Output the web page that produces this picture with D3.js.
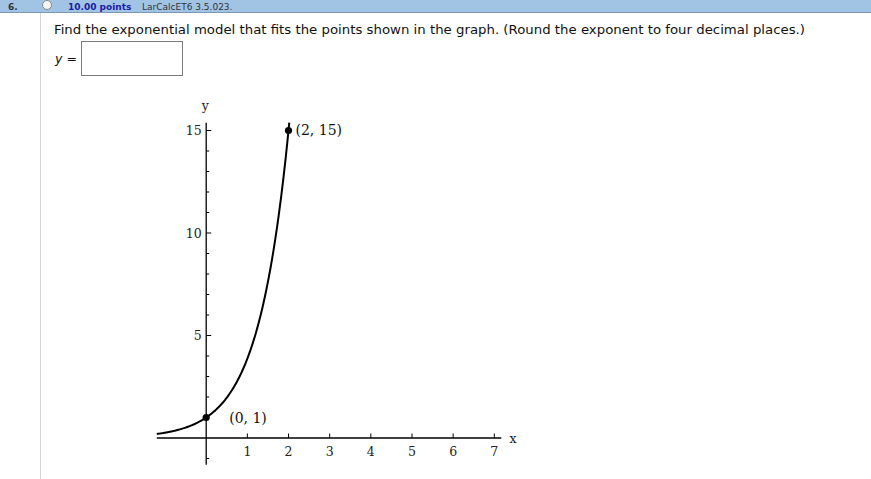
<!DOCTYPE html>
<html>
<head>
<meta charset="utf-8">
<script src="https://cdn.jsdelivr.net/npm/d3@7/dist/d3.min.js"></script>
<style>
  html, body { margin: 0; padding: 0; background: #fff; overflow: hidden; }
  svg { display: block; }
</style>
</head>
<body>
<svg id="chart" width="871" height="479"></svg>
<script>
// ---- data ----
const pointXs = [0, 2];
const pointYs = [1, 15];
const pointLabels = ["(0, 1)", "(2, 15)"];
const xTickValues = [1, 2, 3, 4, 5, 6, 7];
const yTickValues = [5, 10, 15];
const yMinorTickValues = [-1, 1, 2, 3, 4, 6, 7, 8, 9, 11, 12, 13, 14];
const questionText = "Find the exponential model that fits the points shown in the graph. (Round the exponent to four decimal places.)";

const svg = d3.select("#chart");
const W = 871, H = 479;

// ---- page chrome ----
svg.append("rect").attr("x", 0).attr("y", 0).attr("width", W).attr("height", 12).attr("fill", "#a2c4e4");
svg.append("line").attr("x1", 0).attr("x2", W).attr("y1", 12.5).attr("y2", 12.5).attr("stroke", "#7d98b3").attr("stroke-width", 1);
svg.append("text").attr("x", 8).attr("y", 9.5).attr("font-family", "DejaVu Sans").attr("font-size", 9).attr("font-weight", "bold").attr("fill", "#333").text("6.");
svg.append("circle").attr("cx", 47).attr("cy", 5).attr("r", 4.5).attr("fill", "#f4f4f4").attr("stroke", "#888");
svg.append("text").attr("x", 68).attr("y", 9.5).attr("font-family", "DejaVu Sans").attr("font-size", 9).attr("font-weight", "bold").attr("fill", "#1a1aa8").text("10.00 points");
svg.append("text").attr("x", 142).attr("y", 9.5).attr("font-family", "DejaVu Sans").attr("font-size", 9).attr("fill", "#333").text("LarCalcET6 3.5.023.");

svg.append("line").attr("x1", 40.5).attr("x2", 40.5).attr("y1", 13).attr("y2", H).attr("stroke", "#d4d4d4").attr("stroke-width", 1);

svg.append("text").attr("x", 54).attr("y", 34).attr("font-family", "DejaVu Sans").attr("font-size", 12.5).attr("fill", "#111")
  .attr("textLength", 751).attr("lengthAdjust", "spacingAndGlyphs").text(questionText);

svg.append("text").attr("x", 55).attr("y", 63).attr("font-family", "DejaVu Sans").attr("font-size", 12.5).attr("fill", "#111")
  .html('<tspan font-style="italic">y</tspan> =');
svg.append("rect").attr("x", 81.5).attr("y", 41.5).attr("width", 101).attr("height", 34).attr("fill", "#fff").attr("stroke", "#7a7a7a").attr("stroke-width", 1);

// ---- scales ----
const x = d3.scaleLinear().domain([0, 7]).range([206.2, 494.3]);
const y = d3.scaleLinear().domain([0, 15]).range([438, 130.5]);
const xMin = -1.2, xMax = 7.17, yMin = -1.3, yMax = 15.38;

const serif = "DejaVu Serif";
const g = svg.append("g");

// x axis
g.append("line").attr("x1", x(xMin)).attr("x2", x(xMax)).attr("y1", y(0)).attr("y2", y(0)).attr("stroke", "#000").attr("stroke-width", 1.3);
g.selectAll(".xt").data(xTickValues).enter().append("line")
  .attr("x1", d => x(d)).attr("x2", d => x(d)).attr("y1", y(0)).attr("y2", y(0) - 4.5).attr("stroke", "#000").attr("stroke-width", 1);
g.selectAll(".xl").data(xTickValues).enter().append("text")
  .attr("x", d => x(d)).attr("y", y(0) + 17.5).attr("text-anchor", "middle").attr("font-family", serif).attr("font-size", 12.5).attr("fill", "#222").text(d => d);
g.append("text").attr("x", 513).attr("y", y(0) + 4.5).attr("text-anchor", "middle").attr("font-family", serif).attr("font-size", 12.5).attr("fill", "#222").text("x");

// y axis
g.append("line").attr("x1", x(0)).attr("x2", x(0)).attr("y1", y(yMax)).attr("y2", y(yMin)).attr("stroke", "#000").attr("stroke-width", 1.3);
g.selectAll(".yt").data(yTickValues).enter().append("line")
  .attr("x1", x(0)).attr("x2", x(0) + 5).attr("y1", d => y(d)).attr("y2", d => y(d)).attr("stroke", "#000").attr("stroke-width", 1);
g.selectAll(".ym").data(yMinorTickValues).enter().append("line")
  .attr("x1", x(0)).attr("x2", x(0) + 3).attr("y1", d => y(d)).attr("y2", d => y(d)).attr("stroke", "#000").attr("stroke-width", 1);
g.selectAll(".yl").data(yTickValues).enter().append("text")
  .attr("x", x(0) - 4.5).attr("y", d => y(d) + 4.5).attr("text-anchor", "end").attr("font-family", serif).attr("font-size", 12.5).attr("fill", "#222").text(d => d);
g.append("text").attr("x", x(0) - 1).attr("y", 110).attr("text-anchor", "middle").attr("font-family", serif).attr("font-size", 12.5).attr("fill", "#222").text("y");

// ---- exponential model through the two points: y = a * e^(k x) ----
const a = pointYs[0];
const k = Math.log(pointYs[1] / pointYs[0]) / (pointXs[1] - pointXs[0]);
const xEnd = Math.log(yMax / a) / k;
const curveXs = d3.range(xMin, xEnd, 0.02).concat([xEnd]);
const line = d3.line().x(d => x(d)).y(d => y(a * Math.exp(k * d))).curve(d3.curveLinear);
g.append("path").datum(curveXs).attr("d", line).attr("fill", "none").attr("stroke", "#000").attr("stroke-width", 2);

// points
const pts = pointXs.map((px, i) => ({ x: px, y: pointYs[i], label: pointLabels[i] }));
g.selectAll(".pt").data(pts).enter().append("circle")
  .attr("cx", d => x(d.x)).attr("cy", d => y(d.y)).attr("r", 3.6).attr("fill", "#000");
const labelOffsets = [[23, 5.5], [7, 4.5]];
g.selectAll(".pl").data(pts).enter().append("text")
  .attr("x", (d, i) => x(d.x) + labelOffsets[i][0]).attr("y", (d, i) => y(d.y) + labelOffsets[i][1])
  .attr("font-family", serif).attr("font-size", 14).attr("fill", "#111").text(d => d.label);
</script>
</body>
</html>
